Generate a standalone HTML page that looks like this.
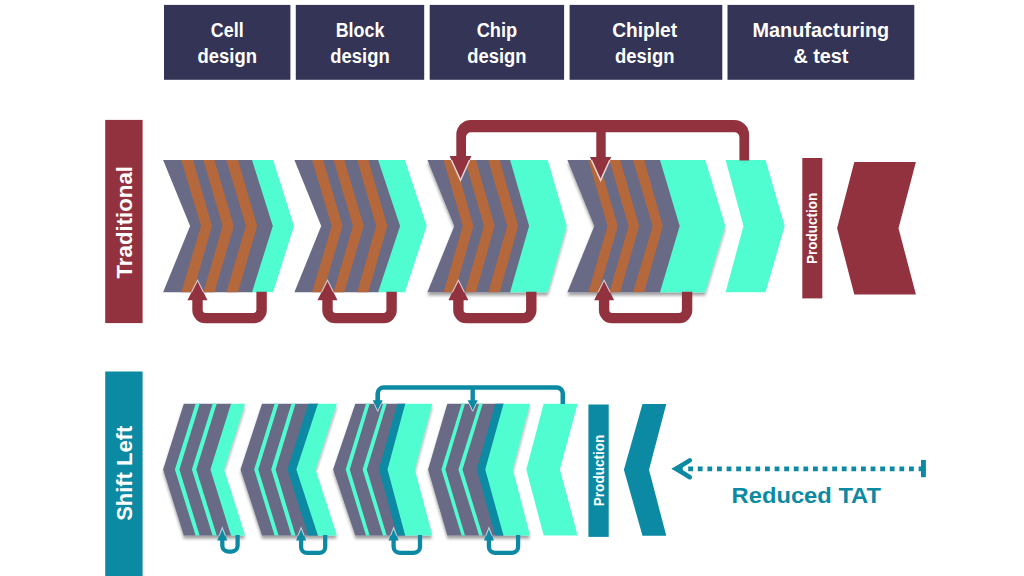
<!DOCTYPE html>
<html><head><meta charset="utf-8"><title>Shift Left</title>
<style>
html,body{margin:0;padding:0;background:#fff;overflow:hidden}
svg{display:block}
text{font-family:"Liberation Sans", sans-serif;font-weight:bold}
.h{font-size:19.4px;fill:#fff;text-anchor:middle}
.s{font-size:21.9px;fill:#fff}
.p{font-size:14px;fill:#fff}
.r{font-size:22.8px;fill:#0c8aa3}
</style></head><body>
<svg width="1024" height="576" viewBox="0 0 1024 576">
<defs>
<filter id="sh" x="-10%" y="-10%" width="120%" height="125%"><feDropShadow dx="0" dy="3.2" stdDeviation="1.8" flood-color="#000" flood-opacity="0.37"/></filter>
<filter id="sh2" x="-10%" y="-10%" width="120%" height="125%"><feDropShadow dx="0" dy="3.2" stdDeviation="1.8" flood-color="#000" flood-opacity="0.37"/></filter>
</defs>
<rect width="1024" height="576" fill="#fff"/>
<rect x="164.0" y="4.9" width="126.4" height="74.9" fill="#343456"/>
<text x="227.2" y="36.8" class="h" textLength="32.8" lengthAdjust="spacingAndGlyphs">Cell</text>
<text x="227.2" y="63.4" class="h" textLength="59.4" lengthAdjust="spacingAndGlyphs">design</text>
<rect x="295.8" y="4.9" width="128.4" height="74.9" fill="#343456"/>
<text x="360.0" y="36.8" class="h" textLength="48.7" lengthAdjust="spacingAndGlyphs">Block</text>
<text x="360.0" y="63.4" class="h" textLength="59.4" lengthAdjust="spacingAndGlyphs">design</text>
<rect x="429.7" y="4.9" width="134.4" height="74.9" fill="#343456"/>
<text x="496.9" y="36.8" class="h" textLength="40.5" lengthAdjust="spacingAndGlyphs">Chip</text>
<text x="496.9" y="63.4" class="h" textLength="59.4" lengthAdjust="spacingAndGlyphs">design</text>
<rect x="569.6" y="4.9" width="152.7" height="74.9" fill="#343456"/>
<text x="644.7" y="36.8" class="h" textLength="64.8" lengthAdjust="spacingAndGlyphs">Chiplet</text>
<text x="644.7" y="63.4" class="h" textLength="59.4" lengthAdjust="spacingAndGlyphs">design</text>
<rect x="727.5" y="4.9" width="186.8" height="74.9" fill="#343456"/>
<text x="820.9" y="36.8" class="h" textLength="136.7" lengthAdjust="spacingAndGlyphs">Manufacturing</text>
<text x="820.9" y="63.4" class="h" textLength="55.0" lengthAdjust="spacingAndGlyphs">&amp; test</text>
<rect x="105.2" y="119.9" width="37.4" height="203.2" fill="#93323f"/>
<text transform="translate(131.8,278.5) rotate(-90)" class="s" textLength="112.5" lengthAdjust="spacingAndGlyphs">Traditional</text>
<rect x="105.2" y="371.5" width="37.4" height="210" fill="#0c8aa3"/>
<text transform="translate(132,520.8) rotate(-90)" class="s" textLength="95" lengthAdjust="spacingAndGlyphs">Shift Left</text>
<g>
<polygon points="163.1,160.0 253.0,160.0 273.8,226.1 253.0,292.2 163.1,292.2 190.1,226.1" fill="#696a86"/>
<polygon points="252.0,160.0 273.1,160.0 294.0,226.1 273.1,292.2 252.0,292.2 272.8,226.1" fill="#4ffdd1"/>
</g>
<polygon points="181.3,160.0 193.1,160.0 212.0,226.1 193.1,292.2 181.3,292.2 201.0,226.1" fill="#b4683c"/>
<polygon points="203.4,160.0 214.5,160.0 233.8,226.1 214.5,292.2 203.4,292.2 222.6,226.1" fill="#b4683c"/>
<polygon points="226.3,160.0 238.0,160.0 257.1,226.1 238.0,292.2 226.3,292.2 245.9,226.1" fill="#b4683c"/>
<g>
<polygon points="294.4,160.0 379.1,160.0 401.1,226.1 379.1,292.2 294.4,292.2 321.2,226.1" fill="#696a86"/>
<polygon points="378.1,160.0 404.9,160.0 426.7,226.1 404.9,292.2 378.1,292.2 400.1,226.1" fill="#4ffdd1"/>
</g>
<polygon points="312.1,160.0 323.2,160.0 342.6,226.1 323.2,292.2 312.1,292.2 331.7,226.1" fill="#b4683c"/>
<polygon points="333.6,160.0 344.3,160.0 363.8,226.1 344.3,292.2 333.6,292.2 352.9,226.1" fill="#b4683c"/>
<polygon points="357.2,160.0 368.3,160.0 387.3,226.1 368.3,292.2 357.2,292.2 376.1,226.1" fill="#b4683c"/>
<g filter="url(#sh)">
<polygon points="427.4,160.0 511.1,160.0 530.1,226.1 511.1,292.2 427.4,292.2 454.3,226.1" fill="#696a86"/>
<polygon points="510.1,160.0 547.7,160.0 566.7,226.1 547.7,292.2 510.1,292.2 529.1,226.1" fill="#4ffdd1"/>
</g>
<polygon points="443.6,160.0 454.7,160.0 473.5,226.1 454.7,292.2 443.6,292.2 462.8,226.1" fill="#b4683c"/>
<polygon points="465.0,160.0 476.0,160.0 494.7,226.1 476.0,292.2 465.0,292.2 484.0,226.1" fill="#b4683c"/>
<polygon points="488.2,160.0 499.7,160.0 518.2,226.1 499.7,292.2 488.2,292.2 507.2,226.1" fill="#b4683c"/>
<g filter="url(#sh)">
<polygon points="567.4,160.0 661.0,160.0 680.7,226.1 661.0,292.2 567.4,292.2 594.3,226.1" fill="#696a86"/>
<polygon points="660.0,160.0 705.2,160.0 725.2,226.1 705.2,292.2 660.0,292.2 679.7,226.1" fill="#4ffdd1"/>
</g>
<polygon points="588.4,160.0 598.6,160.0 617.8,226.1 598.6,292.2 588.4,292.2 607.6,226.1" fill="#b4683c"/>
<polygon points="609.4,160.0 620.2,160.0 639.2,226.1 620.2,292.2 609.4,292.2 628.6,226.1" fill="#b4683c"/>
<polygon points="633.0,160.0 644.2,160.0 662.8,226.1 644.2,292.2 633.0,292.2 652.7,226.1" fill="#b4683c"/>
<polygon points="725.6,160.0 765.5,160.0 784.7,226.1 765.5,292.2 725.6,292.2 743.5,226.1" fill="#4ffdd1"/>
<rect x="802.3" y="158" width="20" height="140.4" fill="#93323f"/>
<text transform="translate(817.4,264) rotate(-90)" class="p" textLength="71.3" lengthAdjust="spacingAndGlyphs">Production</text>
<polygon points="854.3,162.1 915.9,162.1 898.5,228.2 915.9,294.5 854.3,294.5 837.1,228.2" fill="#93323f"/>
<path d="M261.6,291.7 V310.1 A8.0,8.0 0 0 1 253.6,318.1 H205.5 A8.0,8.0 0 0 1 197.5,310.1 V299.7" fill="none" stroke="#93323f" stroke-width="10.4"/><polygon points="187.5,300.2 197.5,280.3 207.5,300.2" fill="#93323f"/><polyline points="191.5,292.2 197.5,280.3 203.5,292.2" fill="none" stroke="#e9dfe0" stroke-width="1.1" stroke-opacity="0.85"/>
<path d="M391.6,291.7 V310.1 A8.0,8.0 0 0 1 383.6,318.1 H335.5 A8.0,8.0 0 0 1 327.5,310.1 V299.7" fill="none" stroke="#93323f" stroke-width="10.4"/><polygon points="317.5,300.2 327.5,280.3 337.5,300.2" fill="#93323f"/><polyline points="321.5,292.2 327.5,280.3 333.5,292.2" fill="none" stroke="#e9dfe0" stroke-width="1.1" stroke-opacity="0.85"/>
<path d="M531.3,291.7 V310.1 A8.0,8.0 0 0 1 523.3,318.1 H466.4 A8.0,8.0 0 0 1 458.4,310.1 V299.7" fill="none" stroke="#93323f" stroke-width="10.4"/><polygon points="448.4,300.2 458.4,280.3 468.4,300.2" fill="#93323f"/><polyline points="452.4,292.2 458.4,280.3 464.4,292.2" fill="none" stroke="#e9dfe0" stroke-width="1.1" stroke-opacity="0.85"/>
<path d="M687.1,291.7 V310.1 A8.0,8.0 0 0 1 679.1,318.1 H612.1 A8.0,8.0 0 0 1 604.1,310.1 V299.7" fill="none" stroke="#93323f" stroke-width="10.4"/><polygon points="594.1,300.2 604.1,280.3 614.1,300.2" fill="#93323f"/><polyline points="598.1,292.2 604.1,280.3 610.1,292.2" fill="none" stroke="#e9dfe0" stroke-width="1.1" stroke-opacity="0.85"/>
<path d="M456.3,157 V134.5 A14.6,14.6 0 0 1 470.9,119.9 H734.1 A15,15 0 0 1 749.1,134.9 V160.5 H739.4 V137.2 A5,5 0 0 0 734.4,132.2 H605.7 V158 H596.3 V132.2 H471 A5,5 0 0 0 466,137.2 V157 Z" fill="#93323f"/>
<polygon points="449.6,156.0 471.4,156.0 460.5,180.2" fill="#93323f"/><polyline points="451.4,160.0 460.5,180.2 469.6,160.0" fill="none" stroke="#e8d6d6" stroke-width="1.5"/>
<polygon points="590.0,157.0 611.2,157.0 600.6,180.4" fill="#93323f"/><polyline points="591.4,160.0 600.6,180.4 609.8,160.0" fill="none" stroke="#e8d6d6" stroke-width="1.5"/>
<g filter="url(#sh2)">
<polygon points="183.8,403.7 232.0,403.7 211.4,469.6 232.0,535.6 183.8,535.6 163.1,469.6" fill="#696a86"/>
<polygon points="231.0,403.7 245.1,403.7 224.1,469.6 245.1,535.6 231.0,535.6 210.4,469.6" fill="#4ffdd1"/>
</g>
<polygon points="195.6,403.7 199.7,403.7 179.4,469.6 199.7,535.6 195.6,535.6 174.9,469.6" fill="#4ffdd1"/>
<polygon points="212.6,403.7 216.7,403.7 196.3,469.6 216.7,535.6 212.6,535.6 191.9,469.6" fill="#4ffdd1"/>
<g filter="url(#sh2)">
<polygon points="262.0,403.7 318.4,403.7 296.8,469.6 318.4,535.6 262.0,535.6 240.5,469.6" fill="#696a86"/>
<polygon points="317.4,403.7 336.9,403.7 315.5,469.6 336.9,535.6 317.4,535.6 295.8,469.6" fill="#4ffdd1"/>
</g>
<polygon points="274.6,403.7 278.6,403.7 258.3,469.6 278.6,535.6 274.6,535.6 254.2,469.6" fill="#4ffdd1"/>
<polygon points="291.4,403.7 295.5,403.7 275.6,469.6 295.5,535.6 291.4,535.6 271.2,469.6" fill="#4ffdd1"/>
<polygon points="308.4,403.7 317.9,403.7 296.3,469.6 317.9,535.6 308.4,535.6 287.4,469.6" fill="#0c8aa3"/>
<g filter="url(#sh2)">
<polygon points="355.3,403.7 405.7,403.7 388.0,469.6 405.7,535.6 355.3,535.6 333.1,469.6" fill="#696a86"/>
<polygon points="404.7,403.7 432.3,403.7 414.8,469.6 432.3,535.6 404.7,535.6 387.0,469.6" fill="#4ffdd1"/>
</g>
<polygon points="366.0,403.7 369.7,403.7 349.8,469.6 369.7,535.6 366.0,535.6 345.7,469.6" fill="#4ffdd1"/>
<polygon points="383.0,403.7 386.7,403.7 366.8,469.6 386.7,535.6 383.0,535.6 362.6,469.6" fill="#4ffdd1"/>
<polygon points="397.3,403.7 405.2,403.7 387.5,469.6 405.2,535.6 397.3,535.6 378.9,469.6" fill="#0c8aa3"/>
<g filter="url(#sh2)">
<polygon points="447.3,403.7 504.0,403.7 485.7,469.6 504.0,535.6 447.3,535.6 428.1,469.6" fill="#696a86"/>
<polygon points="503.0,403.7 530.0,403.7 512.7,469.6 530.0,535.6 503.0,535.6 484.7,469.6" fill="#4ffdd1"/>
</g>
<polygon points="461.6,403.7 465.0,403.7 445.4,469.6 465.0,535.6 461.6,535.6 441.4,469.6" fill="#4ffdd1"/>
<polygon points="479.1,403.7 482.7,403.7 462.5,469.6 482.7,535.6 479.1,535.6 458.4,469.6" fill="#4ffdd1"/>
<polygon points="495.3,403.7 503.5,403.7 485.2,469.6 503.5,535.6 495.3,535.6 476.8,469.6" fill="#0c8aa3"/>
<polygon points="543.7,403.7 577.6,403.7 559.9,469.6 577.6,535.6 543.7,535.6 526.3,469.6" fill="#4ffdd1"/>
<rect x="588.4" y="404.5" width="20.3" height="132.4" fill="#0c8aa3"/>
<text transform="translate(604.3,506.2) rotate(-90)" class="p" textLength="71.5" lengthAdjust="spacingAndGlyphs">Production</text>
<polygon points="642.5,403.9 666.3,403.9 649.0,469.8 666.3,535.8 642.5,535.8 623.9,469.8" fill="#0c8aa3"/>
<path d="M237.6,535.1 V545.6 A6.0,6.0 0 0 1 231.6,551.6 H228.3 A6.0,6.0 0 0 1 222.3,545.6 V539.9" fill="none" stroke="#0c8aa3" stroke-width="4.3"/><polygon points="217.3,540.4 222.3,527.8 227.3,540.4" fill="#0c8aa3"/><polyline points="219.2,535.6 222.3,527.8 225.4,535.6" fill="none" stroke="#cfe3ea" stroke-width="1.1" stroke-opacity="0.85"/>
<path d="M325.2,535.1 V546.9 A6.0,6.0 0 0 1 319.2,552.9 H307.1 A6.0,6.0 0 0 1 301.1,546.9 V539.9" fill="none" stroke="#0c8aa3" stroke-width="4.3"/><polygon points="296.1,540.4 301.1,527.8 306.1,540.4" fill="#0c8aa3"/><polyline points="298.0,535.6 301.1,527.8 304.2,535.6" fill="none" stroke="#cfe3ea" stroke-width="1.1" stroke-opacity="0.85"/>
<path d="M420.0,535.1 V546.8 A6.0,6.0 0 0 1 414.0,552.8 H399.6 A6.0,6.0 0 0 1 393.6,546.8 V539.9" fill="none" stroke="#0c8aa3" stroke-width="4.3"/><polygon points="388.6,540.4 393.6,527.8 398.6,540.4" fill="#0c8aa3"/><polyline points="390.5,535.6 393.6,527.8 396.7,535.6" fill="none" stroke="#cfe3ea" stroke-width="1.1" stroke-opacity="0.85"/>
<path d="M518.1,535.1 V546.8 A6.0,6.0 0 0 1 512.1,552.8 H494.9 A6.0,6.0 0 0 1 488.9,546.8 V539.9" fill="none" stroke="#0c8aa3" stroke-width="4.3"/><polygon points="483.9,540.4 488.9,527.8 493.9,540.4" fill="#0c8aa3"/><polyline points="485.8,535.6 488.9,527.8 492.0,535.6" fill="none" stroke="#cfe3ea" stroke-width="1.1" stroke-opacity="0.85"/>
<path d="M377.7,401 V393.5 A6,6 0 0 1 383.7,387.5 H556.8 A6,6 0 0 1 562.8,393.5 V404" fill="none" stroke="#0c8aa3" stroke-width="4.6"/>
<path d="M472.7,387.5 V401" fill="none" stroke="#0c8aa3" stroke-width="4.4"/>
<polygon points="372.7,400.3 382.7,400.3 377.7,411.3" fill="#0c8aa3"/><polyline points="374.2,403.7 377.7,411.3 381.2,403.7" fill="none" stroke="#cfe3ea" stroke-width="0.9"/>
<polygon points="467.7,400.3 477.7,400.3 472.7,411.3" fill="#0c8aa3"/><polyline points="469.2,403.7 472.7,411.3 476.2,403.7" fill="none" stroke="#cfe3ea" stroke-width="0.9"/>
<path d="M688.2,468.8 H923" stroke="#0c8aa3" stroke-width="4.8" stroke-dasharray="4.8 4.8" fill="none"/>
<rect x="921" y="459.9" width="4.9" height="17.3" fill="#0c8aa3"/>
<path d="M689.8,460.4 L676.2,468.8 L689.8,477.2" fill="none" stroke="#0c8aa3" stroke-width="4.6" stroke-linecap="round" stroke-linejoin="miter" stroke-miterlimit="10"/>
<polygon points="671.3,468.8 684,462 682.6,468.8 684,475.6" fill="#0c8aa3"/>
<text x="731.6" y="503.4" class="r" textLength="149.4" lengthAdjust="spacingAndGlyphs">Reduced TAT</text>
</svg>
</body></html>
